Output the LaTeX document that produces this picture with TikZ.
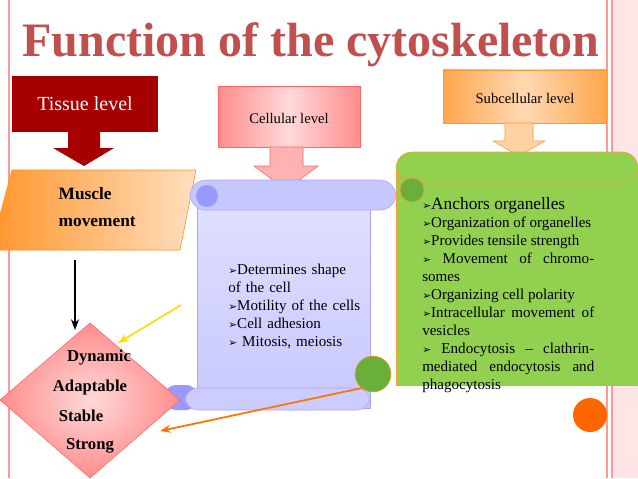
\documentclass[tikz,border=0pt]{standalone}
\usepackage{fontspec}
\setmainfont{Liberation Serif}
\newfontfamily\dvs{DejaVu Sans}
\newcommand{\ar}{{\dvs\footnotesize\char"27A2}}
\usetikzlibrary{arrows.meta}
\definecolor{grn}{HTML}{92D050}
\definecolor{dgrn}{HTML}{6AAF3A}
\definecolor{ttl}{HTML}{C0504D}
\begin{document}
\begin{tikzpicture}[x=0.75pt,y=-0.75pt,
 lbl/.style={font=\fontsize{11}{13}\selectfont,align=center},
 dia/.style={font=\bfseries\fontsize{12.5}{14}\selectfont},
 body/.style={font=\fontsize{11.3}{13.5}\selectfont,align=justify,anchor=north west,inner sep=0pt}]
\useasboundingbox (0,0) rectangle (638,478);
\fill[white] (0,0) rectangle (638,478);
\fill[pink!40] (612,0) rectangle (638,478);
\draw[pink!80!red,line width=0.8pt] (9,0) -- (9,478) (607,0) -- (607,478) (612,0)--(612,478);
\fill[orange!80!red] (590,415) circle (17);
\node[font=\bfseries\fontsize{36}{36}\selectfont,text=ttl] (title) at (311,45) {Function of the cytoskeleton};
% Tissue
\fill[red!65!black] (12,76) rectangle (158,132);
\node[text=white,font=\fontsize{15}{17}\selectfont] (tis) at (85,104) {Tissue level};
\fill[red!65!black] (68,132) -- (100,132) -- (100,148) -- (114,148) -- (84,166) -- (53,148) -- (68,148) -- cycle;
% Cellular
\shade[left color=red!45,right color=red!45,middle color=red!15,draw=red!60] (218,86) rectangle (360,147);
\node[lbl] (cel) at (289,118) {Cellular level};
\fill[red!30,draw=red!60] (270,147) -- (303,147) -- (303,166) -- (318,166) -- (286,190) -- (254,166) -- (270,166) -- cycle;
% Subcellular
\shade[left color=orange!70,right color=orange!70,middle color=orange!30,draw=orange!80] (443,70) rectangle (606,123);
\node[lbl] (sub) at (525,98) {Subcellular level};
\fill[orange!35,draw=orange!80] (505,123) -- (533,123) -- (533,141) -- (545,141) -- (519,156) -- (493,141) -- (505,141) -- cycle;
% Muscle
\shade[left color=orange!80,right color=orange!25,draw=orange!90] (12,170) -- (196,170) -- (180,250) -- (0,250) -- (0,215) -- cycle;
\node[font=\bfseries\fontsize{13}{20}\selectfont,align=left,anchor=west] (mus) at (54,207) {Muscle\\movement};
% blue scroll
\shade[top color=blue!12,bottom color=blue!22,draw=blue!35] (197,195) rectangle (370,408);
\fill[blue!22,draw=blue!35,rounded corners=12] (190,180) rectangle (396,210);
\fill[blue!40] (207,196) circle (11);
\fill[blue!40,rounded corners=8] (165,385) rectangle (197,410);
\fill[blue!20,draw=blue!35,rounded corners=10] (185,388) rectangle (370,410);
\node[body,text width=100pt,align=left] (cellt) at (228,264) {\ar Determines shape of the cell\\\ar Motility of the cells\\\ar Cell adhesion\\\ar\ Mitosis, meiosis};
% green scroll
\fill[grn,draw=orange!80] (396,165) rectangle (638,385);
\fill[grn,draw=orange!80,rounded corners=12] (396,152) rectangle (638,182);
\fill[dgrn,draw=orange!80] (412,190) circle (12);
\fill[dgrn,draw=orange!80] (373,374) circle (18);
\node[body,text width=129pt] (subt) at (422,197) {{\fontsize{13}{15}\selectfont\ar Anchors organelles}\\
\ar Organization of organelles\\\ar Provides tensile strength\\\ar\ Movement of chromosomes\\\ar Organizing cell polarity\\\ar Intracellular movement of vesicles\\\ar\ Endocytosis -- clathrin-mediated endocytosis and phagocytosis};
% diamond
\shade[inner color=red!15,outer color=red!45,draw=red!60] (90,323) -- (180,400) -- (90,478) -- (0,400) -- cycle;
\node[dia] (d1) at (99,358) {Dynamic};
\node[dia] (d2) at (90,387) {Adaptable};
\node[dia] (d3) at (81,416) {Stable};
\node[dia] (d4) at (90,446) {Strong};
% arrows
\coordinate (a1) at (75,260); \coordinate (a2) at (75,330);
\draw[-{Stealth[length=8pt]},line width=1.3pt] (a1) -- (a2);
\coordinate (y1) at (181,305); \coordinate (y2) at (118,343);
\draw[-{Stealth[length=8pt]},line width=1.3pt,yellow!80!orange] (y1) -- (y2);
\coordinate (o1) at (362,388); \coordinate (o2) at (160,431);
\draw[-{Stealth[length=8pt]},line width=1.3pt,orange!90!red] (o1) -- (o2);
\end{tikzpicture}
\end{document}
